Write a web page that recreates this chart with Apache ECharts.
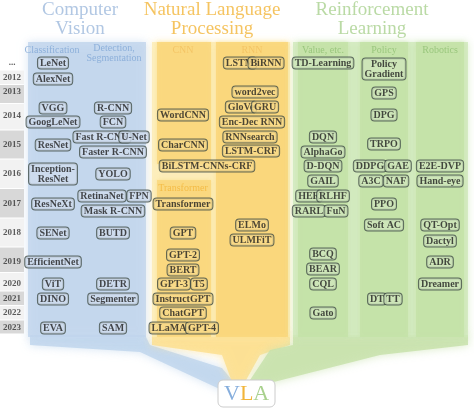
<!DOCTYPE html><html><head><meta charset="utf-8"><script src="https://cdn.jsdelivr.net/npm/echarts@6/dist/echarts.min.js"></script>
<style>body{margin:0}#c{width:474px;height:410px}</style></head><body><div id="c"></div><script>
const years=['...','2012','2013','2014','2015','2016','2017','2018','2019','2020','2021','2022','2023'];
const yearPos=[63,78,92,116,145,174,204,233,262,284,299,313,328];
const cvItems=[['LeNet',53,63],['AlexNet',53,79],['VGG',53,108],['GoogLeNet',53,122],['ResNet',53,145],['Inception-\nResNet',53,174],['ResNeXt',53,204],['SENet',53,233],['EfficientNet',53,262],['ViT',53,284],['DINO',53,299],['EVA',53,328],
['R-CNN',113,108],['FCN',113,122],['Fast R-CNN',102,137],['U-Net',134,137],['Faster R-CNN',113,152],['YOLO',113,174],['RetinaNet',102,196],['FPN',139,196],['Mask R-CNN',113,211],['BUTD',113,233],['DETR',113,284],['Segmenter',113,299],['SAM',113,328]];
const nlpItems=[['WordCNN',183,115],['CharCNN',183,145],['BiLSTM-CNNs-CRF',207,166],['Transformer',183,204],['GPT',183,233],['GPT-2',183,255],['BERT',183,270],['GPT-3',174,284],['T5',199,284],['InstructGPT',183,299],['ChatGPT',183,313],['LLaMA',169,328],['GPT-4',202,328],
['LSTM',240,63],['BiRNN',266,63],['word2vec',255,92],['GloVe',241,107],['GRU',265,107],['Enc-Dec RNN',252,122],['RNNsearch',250,137],['LSTM-CRF',251,151],['ELMo',252,225],['ULMFiT',252,240]];
const rlItems=[['TD-Learning',323,63],['DQN',323,137],['AlphaGo',323,152],['D-DQN',323,166],['GAIL',323,181],['HER',309,196],['RLHF',333,196],['RARL',309,211],['FuN',336,211],['BCQ',323,254],['BEAR',323,269],['CQL',323,284],['Gato',323,313],
['Policy\nGradient',384,69],['GPS',384,93],['DPG',384,115],['TRPO',384,144],['DDPG',370,166],['GAE',398,166],['A3C',371,181],['NAF',396,181],['PPO',384,204],['Soft AC',384,225],['DT',377,299],['TT',393,299],
['E2E-DVP',440,166],['Hand-eye',440,181],['QT-Opt',440,225],['Dactyl',440,241],['ADR',440,262],['Dreamer',440,284]];
const headers=[['Computer\nVision',80,20,'#9db9dc',19],['Natural Language\nProcessing',212,20,'#f2b53a',19],['Reinforcement\nLearning',372,20,'#a9d18e',19]];
const subHeaders=[['Classification',52,50,'#7fa6d6'],['Detection,\nSegmentation',114,53,'#7fa6d6'],['CNN',183,50,'#f2c060'],['RNN',252,50,'#f2c060'],['Transformer',183,188,'#f2b53a'],['Value, etc.',323,50,'#8fbf72'],['Policy',384,50,'#8fbf72'],['Robotics',440,50,'#8fbf72']];
const F='Liberation Serif';
const base={type:'scatter',symbol:'circle',symbolSize:0,itemStyle:{color:'rgba(0,0,0,0)'},z:6};
function boxSeries(items,fill){return Object.assign({},base,{data:items.map(d=>({value:[d[1],d[2]],name:d[0]})),
label:{show:true,position:'inside',formatter:p=>p.name,fontFamily:F,fontWeight:'bold',fontSize:10,lineHeight:10,color:'#1e1e1e',backgroundColor:fill,borderColor:'#3d4a44',borderWidth:1,borderRadius:3,padding:[1,2,0,2]}});}
function textSeries(items){return Object.assign({},base,{data:items.map(d=>({value:[d[1],d[2]],name:d[0],label:{color:d[3],fontSize:d[4]||10,lineHeight:d[4]?19:10}})),
label:{show:true,position:'inside',formatter:p=>p.name,fontFamily:F}});}
const ch=echarts.init(document.getElementById('c'));
const yrItems=years.map((y,i)=>[y,12,yearPos[i],'#333']);
const bg=(x,y,w,h,c,b)=>({type:'rect',shape:{x,y,width:w,height:h},style:{fill:c,shadowBlur:b||8,shadowColor:c},z:-5});
ch.setOption({animation:false,
xAxis:{type:'value',min:0,max:474,show:false},yAxis:{type:'value',min:0,max:410,inverse:true,show:false},
grid:{left:0,right:0,top:0,bottom:0},
graphic:[
{type:'polygon',shape:{points:[[30,335],[145,335],[150,345],[222,368],[236,385],[226,392],[140,352],[30,345]]},style:{fill:'rgba(190,212,236,0.8)',shadowBlur:10,shadowColor:'rgba(190,212,236,0.8)'},z:-6},
{type:'polygon',shape:{points:[[152,335],[290,335],[290,345],[260,355],[245,382],[232,382],[222,355],[152,345]]},style:{fill:'rgba(252,222,140,0.8)',shadowBlur:10,shadowColor:'rgba(252,222,140,0.8)'},z:-6},
{type:'polygon',shape:{points:[[293,335],[468,335],[468,345],[380,355],[262,385],[250,380],[270,350],[293,345]]},style:{fill:'rgba(200,226,172,0.85)',shadowBlur:10,shadowColor:'rgba(200,226,172,0.8)'},z:-6},
bg(28,42,118,295,'rgba(192,212,236,0.8)'),bg(152,42,138,295,'rgba(253,236,180,0.8)'),bg(157,42,54,122,'rgba(250,214,120,0.75)',4),bg(216,42,72,295,'rgba(250,214,120,0.8)',4),bg(157,180,54,157,'rgba(250,214,120,0.75)',4),
bg(293,42,175,295,'rgba(208,232,186,0.8)'),bg(298,42,50,295,'rgba(196,226,168,0.8)',4),bg(360,42,48,295,'rgba(196,226,168,0.8)',4),bg(416,42,48,295,'rgba(196,226,168,0.8)',4),
...yearPos.map((y,i)=>({type:'rect',shape:{x:0,y:(i?(yearPos[i-1]+y)/2:56),width:24,height:(i<yearPos.length-1?(yearPos[i+1]-yearPos[i-1])/2:14)-1},style:{fill:i%2?'#f2f2f2':'#d8d8d8'},z:-4})),
{type:'rect',shape:{x:218,y:380,width:57,height:27,r:5},style:{fill:'#fff',stroke:'#ccc',lineWidth:1},z:3},
{type:'text',x:224,y:383,style:{rich:{b:{fill:'#86aedd',fontSize:22,fontFamily:F},o:{fill:'#f2b53a',fontSize:22,fontFamily:F},g:{fill:'#a9d18e',fontSize:22,fontFamily:F}},text:'{b|V}{o|L}{g|A}'},z:4}
],
series:[boxSeries(cvItems,'#cfdcee'),boxSeries(nlpItems,'#f8da8a'),boxSeries(rlItems,'#cfe6bb'),textSeries(headers),textSeries(subHeaders),
Object.assign({},base,{data:yrItems.map(d=>({value:[d[1],d[2]],name:d[0]})),label:{show:true,position:'inside',formatter:p=>p.name,fontFamily:F,fontWeight:'bold',fontSize:9,color:'#333'}})]
});
</script></body></html>
